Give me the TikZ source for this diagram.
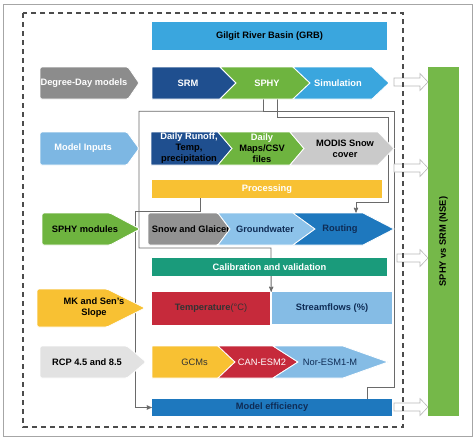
\documentclass[tikz,border=0pt]{standalone}
\usepackage{fontspec}
\setmainfont{Liberation Sans}
\usepackage{tikz}
\usetikzlibrary{arrows,backgrounds,positioning}
\definecolor{skyblue}{HTML}{3AA6DE}
\definecolor{deepblue}{HTML}{1F4F8F}
\definecolor{leafgreen}{HTML}{6EB43F}
\definecolor{midgray}{HTML}{8C8C8C}
\definecolor{paleblue}{HTML}{7DB7E3}
\definecolor{lightgray}{HTML}{CACACA}
\definecolor{sunyellow}{HTML}{F8C133}
\definecolor{softblue}{HTML}{8DC3EA}
\definecolor{riverblue}{HTML}{1E78BE}
\definecolor{teal}{HTML}{1A9B7B}
\definecolor{brickred}{HTML}{C62A3B}
\definecolor{flowblue}{HTML}{85BCE5}
\definecolor{palegray}{HTML}{E2E2E2}
\definecolor{navy}{HTML}{0F2C55}
\definecolor{linegray}{HTML}{6A6A6A}
% row geometry, set before each row of chevrons
\newcommand{\setrow}[2]{\def\rowtop{#1}\def\rowbot{#2}%
  \pgfmathsetmacro\rowmid{(#1+#2)/2}\pgfmathsetmacro\rowh{#2-#1}}
% name, x left, notch, body end, tip, fill, text x, text
\newcommand{\chev}[8]{%
  \filldraw[chevshape, fill=#6] (#2,\rowtop) -- (#4,\rowtop) -- (#5,\rowmid)
    -- (#4,\rowbot) -- (#2,\rowbot) -- ({#2+#3},\rowmid) -- cycle;
  \node[chevtext] (#1) at (#7,\rowmid) {#8};
}
% hollow arrow into the NSE bar: y middle, x start
\newcommand{\nsearrow}[2]{%
  \filldraw[hollow] (#2,{#1-4}) -- (420,{#1-4}) -- (420,{#1-8.5}) -- (428,#1)
    -- (420,{#1+8.5}) -- (420,{#1+4}) -- (#2,{#1+4}) -- cycle;
}
\tikzset{
  every picture/.style = {
    >=stealth',
  }
  ,
  chevshape/.style = {
    draw = white,
    line width = 0.8pt
  }
  , % text of chevrons
  chevtext/.style = {
    font = \bfseries\fontsize{9.3}{11}\selectfont,
    align = center,
    inner sep = 0pt,
    minimum height = \rowh pt
  }
  , % plain bars
  bar/.style = {
    font = \bfseries\fontsize{9.3}{11}\selectfont,
    inner sep = 0pt
  }
  ,
  conn/.style = {
    draw = linegray,
    line width = 0.9pt
  }
  ,
  hollow/.style = {
    draw = gray!55,
    fill = white,
    line width = 0.6pt
  }
}
\begin{document}
\begin{tikzpicture}[x=1pt, y=-1pt]
\useasboundingbox (0,0) rectangle (474,440);
\draw[gray!70, line width=0.8pt] (3,4) rectangle (472,436);
\nsearrow{82}{394}
\nsearrow{168}{394}
\nsearrow{258}{397}
\nsearrow{407}{394}
\draw[black!70, line width=1.2pt, dash pattern=on 5pt off 4pt] (23,13) rectangle (403,427);

\node[bar, fill=skyblue, minimum width=235pt, minimum height=28pt] (grb) at (269.5,36) {Gilgit River Basin (GRB)};
\node[bar, fill=leafgreen!95!white, rotate=90, minimum width=349pt, minimum height=31pt] (nse) at (443.5,241.5) {SPHY vs SRM (NSE)};

\setrow{67}{99}
\chev{degday}{40}{0}{128}{139}{midgray, rounded corners=1.5pt}{84}{\color{white}Degree-Day models}
\chev{srm}{152}{0}{220}{236}{deepblue}{188}{\color{white}SRM}
\chev{sphy}{220}{16}{293}{310}{leafgreen}{267}{\color{white}SPHY}
\chev{sim}{293}{17}{372}{389}{skyblue}{338}{\color{white}Simulation}

\setrow{132}{165}
\chev{inputs}{40}{0}{127}{139}{paleblue, rounded corners=1.5pt}{83}{\color{white}Model Inputs}
\chev{runoff}{151}{0}{218}{232}{deepblue}{189}{\color{white}Daily Runoff,\\Temp,\\precipitation}
\chev{maps}{218}{14}{290}{304}{leafgreen}{262}{\color{white}Daily\\Maps/CSV\\files}
\chev{modis}{290}{14}{378}{394}{lightgray}{345}{MODIS Snow\\cover}

\node[bar, fill=sunyellow, text=white, minimum width=230pt, minimum height=18pt] (proc) at (267,189) {Processing};

\setrow{213}{245}
\chev{modules}{42}{0}{110}{140}{leafgreen, rounded corners=1.5pt}{85}{SPHY modules}
\chev{snow}{148}{0}{218}{230}{midgray!95!white, rounded corners=1.5pt}{191}{Snow and Glaicer}
\chev{ground}{218}{12}{293}{315}{softblue}{265}{\color{navy}Groundwater}
\chev{routing}{293}{22}{363}{394}{riverblue}{340}{\color{navy}Routing}

\node[bar, fill=teal, text=white, minimum width=235pt, minimum height=18pt] (calib) at (269.5,267) {Calibration and validation};

\setrow{289}{327}
\chev{mk}{37}{0}{107}{145}{sunyellow, rounded corners=1.5pt}{94}{MK and Sen's\\Slope}
\node[bar, fill=brickred, text=black!80, minimum width=118pt, minimum height=33pt] (temp) at (211,308.5) {Temperature\mdseries(°C)};
\node[bar, fill=flowblue, text=navy, minimum width=120pt, minimum height=32pt] (flow) at (332,308) {Streamflows (\%)};

\setrow{346}{378}
\chev{rcp}{40}{0}{127}{146}{palegray, rounded corners=1.5pt}{87}{RCP 4.5 and 8.5}
\chev{gcm}{152}{0}{218}{235}{sunyellow}{194.5}{\mdseries\color{black!80}GCMs}
\chev{can}{218}{17}{273}{298}{brickred}{262}{\mdseries\color{white}CAN-ESM2}
\chev{nor}{273}{25}{343}{388}{flowblue}{330}{\mdseries\color{navy}Nor-ESM1-M}

\node[bar, fill=riverblue, text=navy, minimum width=240pt, minimum height=17pt] (eff) at (272,407.5) {Model efficiency};

\begin{pgfonlayer}{background}
\coordinate (split) at ([xshift=-4pt,yshift=-12pt]sphy.south);
\coordinate (effin) at ([xshift=-4pt]eff.east);
\draw[conn,->] (split) -| (139,248) -- (271,248) -- ([xshift=1pt]temp.north east);
\draw[conn,->] ([xshift=-4pt]sphy.south) -- (split) -| (394,387) -| ([xshift=-21pt]effin) -- (effin);
\draw[conn,->] ([xshift=10pt]sphy.south) |- (388,117) |- ([xshift=16pt,yshift=10pt]routing.north) -- ([xshift=16pt]routing.north);
\draw[conn,->] ([xshift=-67pt]proc.south) |- (135,211) |- (eff.west);
\end{pgfonlayer}
\end{tikzpicture}
\end{document}
